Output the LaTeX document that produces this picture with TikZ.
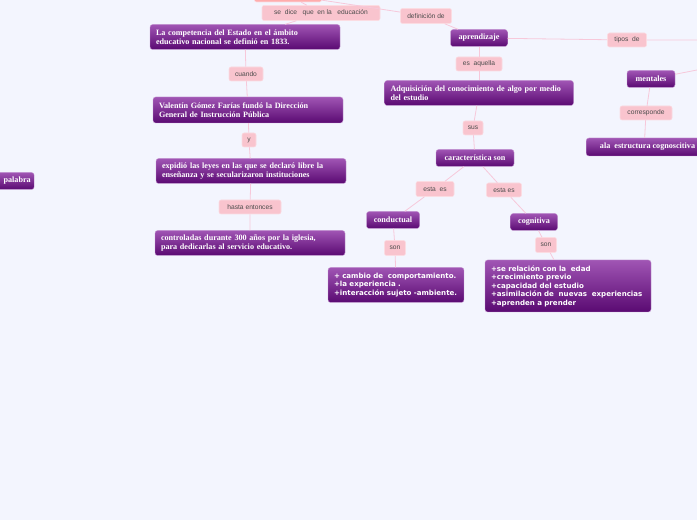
\documentclass[tikz,border=0pt]{standalone}
\usepackage{fontspec}
\setmainfont{Liberation Serif}
\setsansfont{Liberation Sans}
\newfontfamily\listfont{DejaVu Sans}
\definecolor{ptop}{HTML}{A055B4}
\definecolor{pbot}{HTML}{5A0A72}
\definecolor{lpink}{HTML}{F9C4CE}
\definecolor{lnkc}{HTML}{F7C8DA}
\definecolor{bgc}{HTML}{F3F5FE}
\begin{document}
\begin{tikzpicture}[x=0.75pt,y=-0.75pt,
  sz/.style 2 args={minimum width=#1*0.75pt,minimum height=#2*0.75pt},
  pbox/.style={rounded corners=2pt,top color=ptop,bottom color=pbot,draw=ptop!60,line width=0.3pt,text=white,font=\fontsize{6.1}{6.6}\selectfont\bfseries,inner sep=0pt,align=left},
  lbl/.style={fill=lpink,draw=lpink!60,rounded corners=1.5pt,font=\sffamily\fontsize{5}{6}\selectfont,text=black!70,inner sep=0pt},
  lnk/.style={draw=lnkc,line width=0.6pt}]
\useasboundingbox[fill=bgc] (0,0) rectangle (697,520);
\begin{scope}
\clip (0,0) rectangle (697,520);
\node[lbl,sz={67}{14},fill=pink!90!red] (top) at (288,-5) {};
\node[lbl,sz={118}{15}] (sedice) at (321,13) {se\ \ dice\ \ \ que\ \ en la\ \ \ educación};
\node[lbl,sz={51}{15}] (def) at (426,16) {definición de};
\node[pbox,sz={190}{25},text width=133.5pt] (comp) at (245,37) {La competencia del Estado en el ámbito\\educativo nacional se definió en 1833.};
\node[pbox,sz={57}{17},align=center] (apr) at (479,38) {aprendizaje};
\node[lbl,sz={39}{14}] (tipos) at (627,40) {tipos\ \ de};
\coordinate (redge) at (697,40);
\node[lbl,sz={46}{14}] (esaq) at (479,64) {es\ \ aquella};
\node[pbox,sz={48}{17},align=center] (ment) at (651,79) {mentales};
\coordinate (mend) at (697,70);
\node[pbox,sz={189}{25},text width=132.75pt] (adq) at (479,93) {Adquisición del conocimiento de algo por medio\\del estudio};
\node[lbl,sz={34}{14}] (cuando) at (246,74) {cuando};
\node[lbl,sz={52}{14}] (corr) at (646,113) {corresponde};
\node[pbox,sz={116}{18},anchor=west] (ala) at (586,147) {\hspace{5pt}ala\ \ estructura cognoscitiva};
\node[pbox,sz={190}{26},text width=133.5pt] (val) at (248,110) {Valentín Gómez Farías fundó la Dirección\\General de Instrucción Pública};
\node[lbl,sz={20}{14}] (sus) at (473,128) {sus};
\node[pbox,sz={78}{17},align=center] (car) at (475,158) {característica son};
\node[lbl,sz={14}{14}] (y) at (249,140) {y};
\node[pbox,sz={190}{25},text width=133.5pt] (exp) at (251,171) {expidió las leyes en las que se declaró libre la\\enseñanza y se secularizaron instituciones};
\node[lbl,sz={38}{15}] (e1) at (435,189) {esta\ \ es};
\node[lbl,sz={35}{14}] (e2) at (504,190) {esta es};
\node[pbox,sz={40}{17},anchor=west] (pal) at (-6,181) {\hspace{4.5pt}palabra};
\node[lbl,sz={62}{14}] (hasta) at (250,207) {hasta entonces};
\node[pbox,sz={53}{17},align=center] (cond) at (393,220) {conductual};
\node[pbox,sz={47}{17},align=center] (cog) at (534,222) {cognitiva};
\node[pbox,sz={190}{25},text width=133.5pt] (contr) at (250,243) {controladas durante 300 años por la iglesia,\\para dedicarlas al servicio educativo.};
\node[lbl,sz={21}{15}] (son1) at (395,248) {son};
\node[lbl,sz={21}{15}] (son2) at (546,245) {son};
\node[pbox,sz={136}{35},text width=93pt,font=\listfont\fontsize{5.3}{6.6}\selectfont\bfseries] (list1) at (396,285) {+ cambio de\ \ comportamiento.\\+la experiencia .\\+interacción sujeto -ambiente.};
\node[pbox,sz={166}{52},text width=115.5pt,font=\listfont\fontsize{5.3}{6.4}\selectfont\bfseries] (list2) at (568,286) {+se relación con la\ \ edad\\+crecimiento previo\\+capacidad del estudio\\+asimilación de\ \ nuevas\ \ experiencias\\+aprenden a prender};
\path[lnk] (top) -- (sedice) (sedice) -- (comp);
\path[lnk] (top) -- (def) (def) -- (apr);
\path[lnk] (apr) -- (tipos) (tipos) -- (redge);
\path[lnk] (ment) -- (mend);
\path[lnk] (apr) -- (esaq) (esaq) -- (adq);
\path[lnk] (comp) -- (cuando) (cuando) -- (val);
\path[lnk] (ment) -- (corr) (corr) -- (ala);
\path[lnk] (adq) -- (sus) (sus) -- (car);
\path[lnk] (val) -- (y) (y) -- (exp);
\path[lnk] (car) -- (e1) (e1) -- (cond);
\path[lnk] (car) -- (e2) (e2) -- (cog);
\path[lnk] (exp) -- (hasta) (hasta) -- (contr);
\path[lnk] (cond) -- (son1) (son1) -- (list1);
\path[lnk] (cog) -- (son2) (son2) -- (list2);
\end{scope}
\end{tikzpicture}
\end{document}
